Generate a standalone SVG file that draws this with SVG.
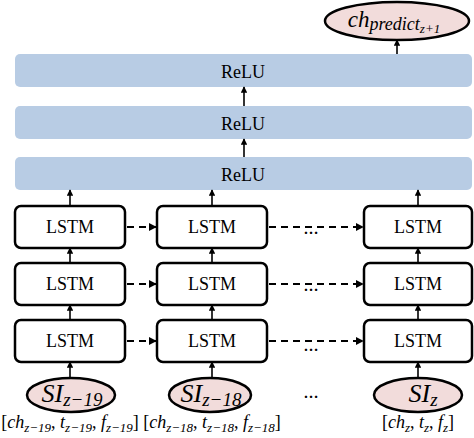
<svg xmlns="http://www.w3.org/2000/svg" width="474" height="438" viewBox="0 0 474 438">
<defs>
<marker id="ah" viewBox="0 0 10 10" refX="9" refY="5" markerWidth="4" markerHeight="4" orient="auto" markerUnits="strokeWidth">
<path d="M0,0 L10,5 L0,10 z" fill="#000"/>
</marker>
<marker id="ahd" viewBox="0 0 10 10" refX="9" refY="5" markerWidth="4.5" markerHeight="4.5" orient="auto" markerUnits="strokeWidth">
<path d="M0,0 L10,5 L0,10 z" fill="#000"/>
</marker>
</defs>
<style>
.bar{fill:#b8cce4;}
.box{fill:#fff;stroke:#000;stroke-width:2.5;}
.ell{fill:#f2dcdb;stroke:#000;stroke-width:2.5;}
.lbl{font-family:"Liberation Serif","DejaVu Serif",serif;font-size:18px;fill:#000;text-anchor:middle;}
.m{font-family:"Liberation Serif","DejaVu Serif",serif;font-style:italic;fill:#000;}
.up{stroke:#000;stroke-width:1.6;fill:none;marker-end:url(#ah);}
.dash{stroke:#000;stroke-width:1.8;fill:none;stroke-dasharray:7 5;marker-end:url(#ahd);}
.dots{font-family:"Liberation Serif","DejaVu Serif",serif;font-size:15px;font-weight:bold;fill:#000;text-anchor:middle;}
</style>

<g id="relu1"><rect class="bar" x="15" y="54" width="457" height="33" rx="5"/><text class="lbl" x="243" y="78">ReLU</text></g>
<g id="relu2"><rect class="bar" x="15" y="106" width="457" height="33" rx="5"/><text class="lbl" x="243" y="130">ReLU</text></g>
<g id="relu3"><rect class="bar" x="15" y="157" width="457" height="33" rx="5"/><text class="lbl" x="243" y="181">ReLU</text></g>

<g id="output"><ellipse class="ell" cx="397" cy="21" rx="72" ry="19"/>
<text class="m" x="394" y="27" text-anchor="middle" font-size="23">ch<tspan font-size="18" dy="3">predict</tspan><tspan font-size="13" dy="3">z+1</tspan></text></g>

<g id="lstm11"><rect class="box" x="15" y="206" width="110" height="42" rx="6"/><text class="lbl" x="70" y="233">LSTM</text></g>
<g id="lstm12"><rect class="box" x="157" y="206" width="110" height="42" rx="6"/><text class="lbl" x="212" y="233">LSTM</text></g>
<g id="lstm13"><rect class="box" x="364" y="206" width="108" height="42" rx="6"/><text class="lbl" x="418" y="233">LSTM</text></g>
<g id="lstm21"><rect class="box" x="15" y="263" width="110" height="42" rx="6"/><text class="lbl" x="70" y="290">LSTM</text></g>
<g id="lstm22"><rect class="box" x="157" y="263" width="110" height="42" rx="6"/><text class="lbl" x="212" y="290">LSTM</text></g>
<g id="lstm23"><rect class="box" x="364" y="263" width="108" height="42" rx="6"/><text class="lbl" x="418" y="290">LSTM</text></g>
<g id="lstm31"><rect class="box" x="15" y="320" width="110" height="42" rx="6"/><text class="lbl" x="70" y="347">LSTM</text></g>
<g id="lstm32"><rect class="box" x="157" y="320" width="110" height="42" rx="6"/><text class="lbl" x="212" y="347">LSTM</text></g>
<g id="lstm33"><rect class="box" x="364" y="320" width="108" height="42" rx="6"/><text class="lbl" x="418" y="347">LSTM</text></g>

<g id="si1"><ellipse class="ell" cx="71" cy="395" rx="44" ry="17"/>
<text class="m" x="72" y="402" text-anchor="middle" font-size="26">SI<tspan font-size="19" dy="4">z−19</tspan></text></g>
<g id="si2"><ellipse class="ell" cx="210" cy="395" rx="41" ry="17"/>
<text class="m" x="211" y="402" text-anchor="middle" font-size="26">SI<tspan font-size="19" dy="4">z−18</tspan></text></g>
<g id="si3"><ellipse class="ell" cx="418" cy="395" rx="44" ry="17"/>
<text class="m" x="423" y="402" text-anchor="middle" font-size="26">SI<tspan font-size="19" dy="4">z</tspan></text></g>

<g id="labels">
<text class="m" x="70" y="428" text-anchor="middle" font-size="18"><tspan font-style="normal">[</tspan>ch<tspan font-size="13" dy="4">z−19</tspan><tspan dy="-4" font-style="normal">, </tspan>t<tspan font-size="13" dy="4">z−19</tspan><tspan dy="-4" font-style="normal">, </tspan>f<tspan font-size="13" dy="4">z−19</tspan><tspan dy="-4" font-style="normal">]</tspan></text>
<text class="m" x="212" y="428" text-anchor="middle" font-size="18"><tspan font-style="normal">[</tspan>ch<tspan font-size="13" dy="4">z−18</tspan><tspan dy="-4" font-style="normal">, </tspan>t<tspan font-size="13" dy="4">z−18</tspan><tspan dy="-4" font-style="normal">, </tspan>f<tspan font-size="13" dy="4">z−18</tspan><tspan dy="-4" font-style="normal">]</tspan></text>
<text class="m" x="418" y="428" text-anchor="middle" font-size="18"><tspan font-style="normal">[</tspan>ch<tspan font-size="13" dy="4">z</tspan><tspan dy="-4" font-style="normal">, </tspan>t<tspan font-size="13" dy="4">z</tspan><tspan dy="-4" font-style="normal">, </tspan>f<tspan font-size="13" dy="4">z</tspan><tspan dy="-4" font-style="normal">]</tspan></text>
<text class="dots" x="311" y="234">…</text>
<text class="dots" x="311" y="291">…</text>
<text class="dots" x="311" y="351">…</text>
<text class="dots" x="311" y="398">…</text>
</g>

<g id="connectors">
<line class="up" x1="397" y1="54" x2="397" y2="40"/>
<line class="up" x1="244" y1="106" x2="244" y2="87"/>
<line class="up" x1="244" y1="157" x2="244" y2="139"/>
<line class="up" x1="70" y1="206" x2="70" y2="190"/>
<line class="up" x1="212" y1="206" x2="212" y2="190"/>
<line class="up" x1="418" y1="206" x2="418" y2="190"/>
<line class="up" x1="70" y1="263" x2="70" y2="248"/>
<line class="up" x1="212" y1="263" x2="212" y2="248"/>
<line class="up" x1="418" y1="263" x2="418" y2="248"/>
<line class="up" x1="70" y1="320" x2="70" y2="305"/>
<line class="up" x1="212" y1="320" x2="212" y2="305"/>
<line class="up" x1="418" y1="320" x2="418" y2="305"/>
<line class="up" x1="70" y1="378" x2="70" y2="362"/>
<line class="up" x1="212" y1="378" x2="212" y2="362"/>
<line class="up" x1="418" y1="378" x2="418" y2="362"/>
<line class="dash" x1="127" y1="227" x2="156" y2="227"/>
<line class="dash" x1="127" y1="284" x2="156" y2="284"/>
<line class="dash" x1="127" y1="341" x2="156" y2="341"/>
<line class="dash" x1="269" y1="227" x2="363" y2="227"/>
<line class="dash" x1="269" y1="284" x2="363" y2="284"/>
<line class="dash" x1="269" y1="341" x2="363" y2="341"/>
</g>
</svg>
